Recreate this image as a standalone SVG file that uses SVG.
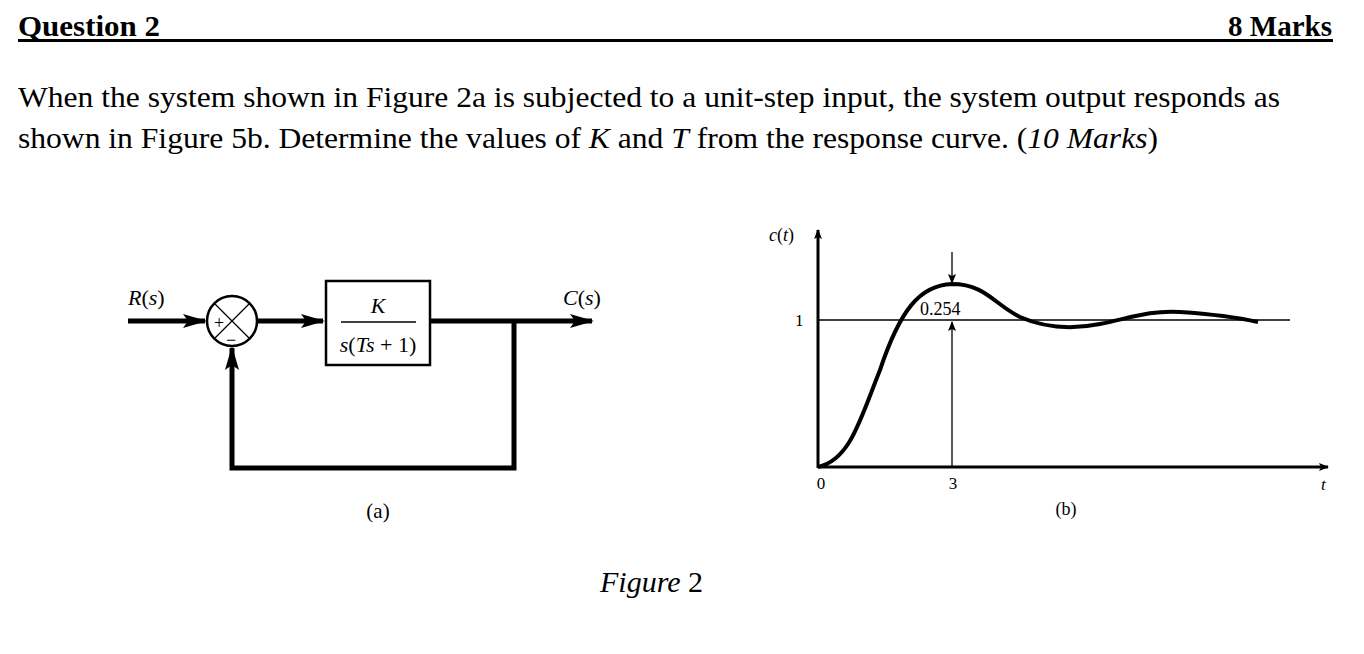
<svg xmlns="http://www.w3.org/2000/svg" width="1364" height="654" viewBox="0 0 1364 654">
<style>
text{font-family:"Liberation Serif","Times New Roman",serif;fill:#000}
.th{stroke:#000;stroke-width:5;fill:none}
.tn{stroke:#000;stroke-width:1.3;fill:none}
</style>
<defs>
<marker id="ab" markerWidth="10" markerHeight="8" refX="9" refY="4" orient="auto" markerUnits="userSpaceOnUse" viewBox="0 0 10 8"><path d="M0,0 L10,4 L0,8 L2,4 Z" fill="#000"/></marker>
<marker id="abig" markerWidth="24" markerHeight="14" refX="22" refY="7" orient="auto" markerUnits="userSpaceOnUse" viewBox="0 0 24 14"><path d="M0,0 L24,7 L0,14 L5,7 Z" fill="#000"/></marker>
</defs>
<rect width="1364" height="654" fill="#fff"/>
<text x="18" y="36" font-size="29" font-weight="bold" textLength="142" lengthAdjust="spacingAndGlyphs">Question 2</text>
<text x="1332" y="36" font-size="29" font-weight="bold" text-anchor="end">8 Marks</text>
<line x1="18" y1="40.5" x2="1333" y2="40.5" stroke="#000" stroke-width="3"/>
<text x="18" y="107" font-size="30" textLength="1262" lengthAdjust="spacingAndGlyphs">When the system shown in Figure 2a is subjected to a unit-step input, the system output responds as</text>
<text x="18" y="148" font-size="30" textLength="1140" lengthAdjust="spacingAndGlyphs">shown in Figure 5b. Determine the values of <tspan font-style="italic">K</tspan> and <tspan font-style="italic">T</tspan> from the response curve. (<tspan font-style="italic">10 Marks</tspan>)</text>

<g id="connectors">
<line class="th" x1="128" y1="321" x2="205" y2="321" marker-end="url(#abig)"/>
<line class="th" x1="258" y1="321" x2="323" y2="321" marker-end="url(#abig)"/>
<line class="th" x1="431" y1="321" x2="592" y2="321" marker-end="url(#abig)"/>
<polyline class="th" points="514,321 514,468 232,468 232,348" marker-end="url(#abig)"/>
</g>
<g id="sum">
<circle cx="232" cy="321" r="25" fill="#fff" stroke="#000" stroke-width="2.5"/>
<line class="tn" x1="214" y1="303" x2="250" y2="339"/>
<line class="tn" x1="250" y1="303" x2="214" y2="339"/>
<text x="214" y="329" font-size="18">+</text>
<text x="226" y="346" font-size="18">−</text>
</g>
<g id="block">
<rect x="326" y="281" width="104" height="84" fill="#fff" stroke="#000" stroke-width="2.5"/>
<text x="378" y="313" font-size="22" font-style="italic" text-anchor="middle">K</text>
<line x1="341" y1="322" x2="416" y2="322" stroke="#000" stroke-width="1.3"/>
<text x="378" y="352" font-size="22" text-anchor="middle" font-style="italic">s<tspan font-style="normal">(</tspan>Ts<tspan font-style="normal"> + 1)</tspan></text>
</g>
<text x="128" y="305" font-size="22" font-style="italic">R<tspan font-style="normal">(</tspan>s<tspan font-style="normal">)</tspan></text>
<text x="563" y="305" font-size="22" font-style="italic">C<tspan font-style="normal">(</tspan>s<tspan font-style="normal">)</tspan></text>
<text x="378" y="518" font-size="21" text-anchor="middle">(a)</text>

<g id="plot">
<line x1="818" y1="468" x2="818" y2="230" stroke="#000" stroke-width="3" marker-end="url(#ab)"/>
<line x1="818" y1="467" x2="1328" y2="467" stroke="#000" stroke-width="3" marker-end="url(#ab)"/>
<line class="tn" x1="818" y1="320" x2="1290" y2="320"/>
<line class="tn" x1="952" y1="467" x2="952" y2="322" marker-end="url(#ab)"/>
<line class="tn" x1="952" y1="252" x2="952" y2="283" marker-end="url(#ab)"/>
<path d="M818,467 C850,460 860,420 880,370 C900,310 920,285 952,284 C985,284 995,305 1020,317 C1045,328 1070,330 1100,324 C1130,318 1150,310 1180,312 C1210,314 1240,318 1258,322" fill="none" stroke="#000" stroke-width="4"/>
<text x="769" y="241" font-size="18" font-style="italic">c<tspan font-style="normal">(</tspan>t<tspan font-style="normal">)</tspan></text>
<text x="795" y="326" font-size="17">1</text>
<text x="920" y="315" font-size="18">0.254</text>
<text x="821" y="489" font-size="17" text-anchor="middle">0</text>
<text x="953" y="489" font-size="17" text-anchor="middle">3</text>
<text x="1321" y="490" font-size="17" font-style="italic">t</text>
<text x="1066" y="515" font-size="18" text-anchor="middle">(b)</text>
</g>
<text x="600" y="592" font-size="30"><tspan font-style="italic">Figure</tspan>  2</text>
</svg>
